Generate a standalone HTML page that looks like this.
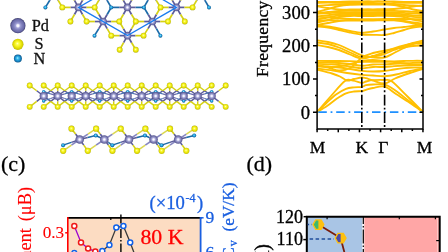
<!DOCTYPE html>
<html><head><meta charset="utf-8"><style>html,body{margin:0;padding:0;background:#fff;overflow:hidden}svg{display:block}</style></head>
<body>
<svg width="448" height="252" viewBox="0 0 448 252">
<defs>
<radialGradient id="gPd" cx="50%" cy="50%" r="50%" fx="50%" fy="50%">
<stop offset="0" stop-color="#ffffff"/><stop offset="0.14" stop-color="#f4f4ff"/><stop offset="0.32" stop-color="#a0a0d6"/><stop offset="0.55" stop-color="#8080bc"/><stop offset="0.8" stop-color="#6c6caa"/><stop offset="0.93" stop-color="#50508a"/><stop offset="1" stop-color="#3a3a62"/></radialGradient>
<radialGradient id="gPd2" cx="50%" cy="50%" r="50%" fx="50%" fy="50%">
<stop offset="0" stop-color="#ffffff"/><stop offset="0.2" stop-color="#ececfc"/><stop offset="0.45" stop-color="#a4a4d4"/><stop offset="0.75" stop-color="#7676ae"/><stop offset="1" stop-color="#52528a"/></radialGradient>
<radialGradient id="gS" cx="50%" cy="50%" r="55%" fx="45%" fy="42%">
<stop offset="0" stop-color="#ffffd0"/><stop offset="0.2" stop-color="#ffff50"/><stop offset="0.55" stop-color="#eeea10"/><stop offset="0.85" stop-color="#cfca00"/><stop offset="1" stop-color="#9a9400"/></radialGradient>
<radialGradient id="gN" cx="50%" cy="50%" r="55%" fx="45%" fy="42%">
<stop offset="0" stop-color="#b0f0ff"/><stop offset="0.25" stop-color="#40c0f0"/><stop offset="0.6" stop-color="#1a8ccc"/><stop offset="1" stop-color="#0a4a7a"/></radialGradient>
</defs>
<rect width="448" height="252" fill="#fff"/>
<circle cx="17.90" cy="25.70" r="7.60" fill="url(#gPd)" />
<circle cx="17.90" cy="44.30" r="5.60" fill="url(#gS)" />
<circle cx="17.90" cy="58.60" r="4.00" fill="url(#gN)" />
<g font-family="Liberation Serif, serif" font-size="16.3" fill="#111" stroke="#111" stroke-width="0.3">
<text x="31.8" y="30.8">Pd</text><text x="34.4" y="48.6">S</text><text x="33.6" y="64.3">N</text></g>
<line x1="54.05" y1="-6.72" x2="49.72" y2="0.34" stroke="#5b5b9a" stroke-width="1.7"/>
<line x1="49.72" y1="0.34" x2="45.40" y2="7.40" stroke="#1b6aa8" stroke-width="1.7"/>
<line x1="54.05" y1="-6.72" x2="58.17" y2="0.34" stroke="#5b5b9a" stroke-width="1.7"/>
<line x1="58.17" y1="0.34" x2="62.30" y2="7.40" stroke="#d6d214" stroke-width="1.7"/>
<line x1="78.50" y1="7.40" x2="70.40" y2="7.40" stroke="#5b5b9a" stroke-width="1.7"/>
<line x1="70.40" y1="7.40" x2="62.30" y2="7.40" stroke="#d6d214" stroke-width="1.7"/>
<line x1="78.50" y1="7.40" x2="86.60" y2="7.40" stroke="#5b5b9a" stroke-width="1.7"/>
<line x1="86.60" y1="7.40" x2="94.70" y2="7.40" stroke="#d6d214" stroke-width="1.7"/>
<line x1="78.50" y1="7.40" x2="74.45" y2="14.46" stroke="#5b5b9a" stroke-width="1.7"/>
<line x1="74.45" y1="14.46" x2="70.40" y2="21.52" stroke="#d6d214" stroke-width="1.7"/>
<line x1="78.50" y1="7.40" x2="82.55" y2="14.46" stroke="#5b5b9a" stroke-width="1.7"/>
<line x1="82.55" y1="14.46" x2="86.60" y2="21.52" stroke="#d6d214" stroke-width="1.7"/>
<line x1="78.50" y1="7.40" x2="74.45" y2="0.34" stroke="#5b5b9a" stroke-width="1.7"/>
<line x1="74.45" y1="0.34" x2="70.40" y2="-6.72" stroke="#d6d214" stroke-width="1.7"/>
<line x1="78.50" y1="7.40" x2="82.55" y2="0.34" stroke="#5b5b9a" stroke-width="1.7"/>
<line x1="82.55" y1="0.34" x2="86.60" y2="-6.72" stroke="#d6d214" stroke-width="1.7"/>
<line x1="102.95" y1="-6.72" x2="98.83" y2="0.34" stroke="#5b5b9a" stroke-width="1.7"/>
<line x1="98.83" y1="0.34" x2="94.70" y2="7.40" stroke="#d6d214" stroke-width="1.7"/>
<line x1="102.95" y1="-6.72" x2="107.08" y2="0.34" stroke="#5b5b9a" stroke-width="1.7"/>
<line x1="107.08" y1="0.34" x2="111.20" y2="7.40" stroke="#1b6aa8" stroke-width="1.7"/>
<line x1="127.40" y1="7.40" x2="119.30" y2="7.40" stroke="#5b5b9a" stroke-width="1.7"/>
<line x1="119.30" y1="7.40" x2="111.20" y2="7.40" stroke="#1b6aa8" stroke-width="1.7"/>
<line x1="127.40" y1="7.40" x2="135.65" y2="7.40" stroke="#5b5b9a" stroke-width="1.7"/>
<line x1="135.65" y1="7.40" x2="143.90" y2="7.40" stroke="#1b6aa8" stroke-width="1.7"/>
<line x1="127.40" y1="7.40" x2="123.35" y2="14.46" stroke="#5b5b9a" stroke-width="1.7"/>
<line x1="123.35" y1="14.46" x2="119.30" y2="21.52" stroke="#d6d214" stroke-width="1.7"/>
<line x1="127.40" y1="7.40" x2="131.60" y2="14.46" stroke="#5b5b9a" stroke-width="1.7"/>
<line x1="131.60" y1="14.46" x2="135.80" y2="21.52" stroke="#d6d214" stroke-width="1.7"/>
<line x1="127.40" y1="7.40" x2="123.35" y2="0.34" stroke="#5b5b9a" stroke-width="1.7"/>
<line x1="123.35" y1="0.34" x2="119.30" y2="-6.72" stroke="#d6d214" stroke-width="1.7"/>
<line x1="127.40" y1="7.40" x2="131.60" y2="0.34" stroke="#5b5b9a" stroke-width="1.7"/>
<line x1="131.60" y1="0.34" x2="135.80" y2="-6.72" stroke="#d6d214" stroke-width="1.7"/>
<line x1="151.90" y1="-6.72" x2="147.90" y2="0.34" stroke="#5b5b9a" stroke-width="1.7"/>
<line x1="147.90" y1="0.34" x2="143.90" y2="7.40" stroke="#1b6aa8" stroke-width="1.7"/>
<line x1="151.90" y1="-6.72" x2="156.20" y2="0.34" stroke="#5b5b9a" stroke-width="1.7"/>
<line x1="156.20" y1="0.34" x2="160.50" y2="7.40" stroke="#d6d214" stroke-width="1.7"/>
<line x1="176.40" y1="7.40" x2="168.45" y2="7.40" stroke="#5b5b9a" stroke-width="1.7"/>
<line x1="168.45" y1="7.40" x2="160.50" y2="7.40" stroke="#d6d214" stroke-width="1.7"/>
<line x1="176.40" y1="7.40" x2="184.50" y2="7.40" stroke="#5b5b9a" stroke-width="1.7"/>
<line x1="184.50" y1="7.40" x2="192.60" y2="7.40" stroke="#d6d214" stroke-width="1.7"/>
<line x1="176.40" y1="7.40" x2="172.20" y2="14.46" stroke="#5b5b9a" stroke-width="1.7"/>
<line x1="172.20" y1="14.46" x2="168.00" y2="21.52" stroke="#d6d214" stroke-width="1.7"/>
<line x1="176.40" y1="7.40" x2="180.60" y2="14.46" stroke="#5b5b9a" stroke-width="1.7"/>
<line x1="180.60" y1="14.46" x2="184.80" y2="21.52" stroke="#d6d214" stroke-width="1.7"/>
<line x1="176.40" y1="7.40" x2="172.35" y2="0.34" stroke="#5b5b9a" stroke-width="1.7"/>
<line x1="172.35" y1="0.34" x2="168.30" y2="-6.72" stroke="#d6d214" stroke-width="1.7"/>
<line x1="176.40" y1="7.40" x2="180.50" y2="0.34" stroke="#5b5b9a" stroke-width="1.7"/>
<line x1="180.50" y1="0.34" x2="184.60" y2="-6.72" stroke="#d6d214" stroke-width="1.7"/>
<line x1="200.80" y1="-6.72" x2="196.70" y2="0.34" stroke="#5b5b9a" stroke-width="1.7"/>
<line x1="196.70" y1="0.34" x2="192.60" y2="7.40" stroke="#d6d214" stroke-width="1.7"/>
<line x1="200.80" y1="-6.72" x2="204.90" y2="0.34" stroke="#5b5b9a" stroke-width="1.7"/>
<line x1="204.90" y1="0.34" x2="209.00" y2="7.40" stroke="#1b6aa8" stroke-width="1.7"/>
<line x1="103.10" y1="21.52" x2="98.90" y2="14.46" stroke="#5b5b9a" stroke-width="1.7"/>
<line x1="98.90" y1="14.46" x2="94.70" y2="7.40" stroke="#d6d214" stroke-width="1.7"/>
<line x1="103.10" y1="21.52" x2="107.15" y2="14.46" stroke="#5b5b9a" stroke-width="1.7"/>
<line x1="107.15" y1="14.46" x2="111.20" y2="7.40" stroke="#1b6aa8" stroke-width="1.7"/>
<line x1="103.10" y1="21.52" x2="94.85" y2="21.52" stroke="#5b5b9a" stroke-width="1.7"/>
<line x1="94.85" y1="21.52" x2="86.60" y2="21.52" stroke="#d6d214" stroke-width="1.7"/>
<line x1="103.10" y1="21.52" x2="111.20" y2="21.52" stroke="#5b5b9a" stroke-width="1.7"/>
<line x1="111.20" y1="21.52" x2="119.30" y2="21.52" stroke="#d6d214" stroke-width="1.7"/>
<line x1="103.10" y1="21.52" x2="98.80" y2="28.58" stroke="#5b5b9a" stroke-width="1.7"/>
<line x1="98.80" y1="28.58" x2="94.50" y2="35.64" stroke="#1b6aa8" stroke-width="1.7"/>
<line x1="103.10" y1="21.52" x2="107.17" y2="28.58" stroke="#5b5b9a" stroke-width="1.7"/>
<line x1="107.17" y1="28.58" x2="111.25" y2="35.64" stroke="#d6d214" stroke-width="1.7"/>
<line x1="152.40" y1="21.52" x2="148.15" y2="14.46" stroke="#5b5b9a" stroke-width="1.7"/>
<line x1="148.15" y1="14.46" x2="143.90" y2="7.40" stroke="#1b6aa8" stroke-width="1.7"/>
<line x1="152.40" y1="21.52" x2="156.45" y2="14.46" stroke="#5b5b9a" stroke-width="1.7"/>
<line x1="156.45" y1="14.46" x2="160.50" y2="7.40" stroke="#d6d214" stroke-width="1.7"/>
<line x1="152.40" y1="21.52" x2="144.10" y2="21.52" stroke="#5b5b9a" stroke-width="1.7"/>
<line x1="144.10" y1="21.52" x2="135.80" y2="21.52" stroke="#d6d214" stroke-width="1.7"/>
<line x1="152.40" y1="21.52" x2="160.20" y2="21.52" stroke="#5b5b9a" stroke-width="1.7"/>
<line x1="160.20" y1="21.52" x2="168.00" y2="21.52" stroke="#d6d214" stroke-width="1.7"/>
<line x1="152.40" y1="21.52" x2="148.00" y2="28.58" stroke="#5b5b9a" stroke-width="1.7"/>
<line x1="148.00" y1="28.58" x2="143.60" y2="35.64" stroke="#d6d214" stroke-width="1.7"/>
<line x1="152.40" y1="21.52" x2="156.40" y2="28.58" stroke="#5b5b9a" stroke-width="1.7"/>
<line x1="156.40" y1="28.58" x2="160.40" y2="35.64" stroke="#1b6aa8" stroke-width="1.7"/>
<line x1="127.50" y1="35.64" x2="123.40" y2="28.58" stroke="#5b5b9a" stroke-width="1.7"/>
<line x1="123.40" y1="28.58" x2="119.30" y2="21.52" stroke="#d6d214" stroke-width="1.7"/>
<line x1="127.50" y1="35.64" x2="131.65" y2="28.58" stroke="#5b5b9a" stroke-width="1.7"/>
<line x1="131.65" y1="28.58" x2="135.80" y2="21.52" stroke="#d6d214" stroke-width="1.7"/>
<line x1="127.50" y1="35.64" x2="119.38" y2="35.64" stroke="#5b5b9a" stroke-width="1.7"/>
<line x1="119.38" y1="35.64" x2="111.25" y2="35.64" stroke="#d6d214" stroke-width="1.7"/>
<line x1="127.50" y1="35.64" x2="135.55" y2="35.64" stroke="#5b5b9a" stroke-width="1.7"/>
<line x1="135.55" y1="35.64" x2="143.60" y2="35.64" stroke="#d6d214" stroke-width="1.7"/>
<line x1="127.50" y1="35.64" x2="123.60" y2="42.70" stroke="#5b5b9a" stroke-width="1.7"/>
<line x1="123.60" y1="42.70" x2="119.70" y2="49.76" stroke="#d6d214" stroke-width="1.7"/>
<line x1="127.50" y1="35.64" x2="131.65" y2="42.70" stroke="#5b5b9a" stroke-width="1.7"/>
<line x1="131.65" y1="42.70" x2="135.80" y2="49.76" stroke="#d6d214" stroke-width="1.7"/>
<circle cx="45.40" cy="7.40" r="2.00" fill="url(#gN)" />
<circle cx="62.30" cy="7.40" r="2.90" fill="url(#gS)" />
<circle cx="78.50" cy="7.40" r="3.80" fill="url(#gPd2)" />
<circle cx="94.70" cy="7.40" r="2.90" fill="url(#gS)" />
<circle cx="111.20" cy="7.40" r="2.00" fill="url(#gN)" />
<circle cx="127.40" cy="7.40" r="3.80" fill="url(#gPd2)" />
<circle cx="143.90" cy="7.40" r="2.00" fill="url(#gN)" />
<circle cx="160.50" cy="7.40" r="2.90" fill="url(#gS)" />
<circle cx="176.40" cy="7.40" r="3.80" fill="url(#gPd2)" />
<circle cx="192.60" cy="7.40" r="2.90" fill="url(#gS)" />
<circle cx="209.00" cy="7.40" r="2.00" fill="url(#gN)" />
<circle cx="70.40" cy="21.52" r="2.90" fill="url(#gS)" />
<circle cx="86.60" cy="21.52" r="2.90" fill="url(#gS)" />
<circle cx="103.10" cy="21.52" r="3.80" fill="url(#gPd2)" />
<circle cx="119.30" cy="21.52" r="2.90" fill="url(#gS)" />
<circle cx="135.80" cy="21.52" r="2.90" fill="url(#gS)" />
<circle cx="152.40" cy="21.52" r="3.80" fill="url(#gPd2)" />
<circle cx="168.00" cy="21.52" r="2.90" fill="url(#gS)" />
<circle cx="184.80" cy="21.52" r="2.90" fill="url(#gS)" />
<circle cx="94.50" cy="35.64" r="2.00" fill="url(#gN)" />
<circle cx="111.25" cy="35.64" r="2.90" fill="url(#gS)" />
<circle cx="127.50" cy="35.64" r="3.80" fill="url(#gPd2)" />
<circle cx="143.60" cy="35.64" r="2.90" fill="url(#gS)" />
<circle cx="160.40" cy="35.64" r="2.00" fill="url(#gN)" />
<circle cx="119.70" cy="49.76" r="2.90" fill="url(#gS)" />
<circle cx="135.80" cy="49.76" r="2.90" fill="url(#gS)" />
<g stroke="#1a7cf0" stroke-width="1.3" fill="none">
<polyline points="127.4,-20.8 78.5,7.4 127.5,35.6 176.4,7.4 127.4,-20.8"/>
</g>
<line x1="43.70" y1="96.00" x2="36.70" y2="90.75" stroke="#5b5b9a" stroke-width="1.5"/>
<line x1="36.70" y1="90.75" x2="29.70" y2="85.50" stroke="#d6d214" stroke-width="1.5"/>
<line x1="43.70" y1="96.00" x2="36.70" y2="101.40" stroke="#5b5b9a" stroke-width="1.5"/>
<line x1="36.70" y1="101.40" x2="29.70" y2="106.80" stroke="#d6d214" stroke-width="1.5"/>
<line x1="57.70" y1="96.00" x2="50.70" y2="90.75" stroke="#5b5b9a" stroke-width="1.5"/>
<line x1="50.70" y1="90.75" x2="43.70" y2="85.50" stroke="#d6d214" stroke-width="1.5"/>
<line x1="57.70" y1="96.00" x2="50.70" y2="101.40" stroke="#5b5b9a" stroke-width="1.5"/>
<line x1="50.70" y1="101.40" x2="43.70" y2="106.80" stroke="#d6d214" stroke-width="1.5"/>
<line x1="43.70" y1="96.00" x2="50.70" y2="90.75" stroke="#5b5b9a" stroke-width="1.5"/>
<line x1="50.70" y1="90.75" x2="57.70" y2="85.50" stroke="#d6d214" stroke-width="1.5"/>
<line x1="43.70" y1="96.00" x2="50.70" y2="101.40" stroke="#5b5b9a" stroke-width="1.5"/>
<line x1="50.70" y1="101.40" x2="57.70" y2="106.80" stroke="#d6d214" stroke-width="1.5"/>
<line x1="71.70" y1="96.00" x2="64.70" y2="90.75" stroke="#5b5b9a" stroke-width="1.5"/>
<line x1="64.70" y1="90.75" x2="57.70" y2="85.50" stroke="#d6d214" stroke-width="1.5"/>
<line x1="71.70" y1="96.00" x2="64.70" y2="101.40" stroke="#5b5b9a" stroke-width="1.5"/>
<line x1="64.70" y1="101.40" x2="57.70" y2="106.80" stroke="#d6d214" stroke-width="1.5"/>
<line x1="57.70" y1="96.00" x2="64.70" y2="90.75" stroke="#5b5b9a" stroke-width="1.5"/>
<line x1="64.70" y1="90.75" x2="71.70" y2="85.50" stroke="#d6d214" stroke-width="1.5"/>
<line x1="57.70" y1="96.00" x2="64.70" y2="101.40" stroke="#5b5b9a" stroke-width="1.5"/>
<line x1="64.70" y1="101.40" x2="71.70" y2="106.80" stroke="#d6d214" stroke-width="1.5"/>
<line x1="85.70" y1="96.00" x2="78.70" y2="90.75" stroke="#5b5b9a" stroke-width="1.5"/>
<line x1="78.70" y1="90.75" x2="71.70" y2="85.50" stroke="#d6d214" stroke-width="1.5"/>
<line x1="85.70" y1="96.00" x2="78.70" y2="101.40" stroke="#5b5b9a" stroke-width="1.5"/>
<line x1="78.70" y1="101.40" x2="71.70" y2="106.80" stroke="#d6d214" stroke-width="1.5"/>
<line x1="71.70" y1="96.00" x2="78.70" y2="90.75" stroke="#5b5b9a" stroke-width="1.5"/>
<line x1="78.70" y1="90.75" x2="85.70" y2="85.50" stroke="#d6d214" stroke-width="1.5"/>
<line x1="71.70" y1="96.00" x2="78.70" y2="101.40" stroke="#5b5b9a" stroke-width="1.5"/>
<line x1="78.70" y1="101.40" x2="85.70" y2="106.80" stroke="#d6d214" stroke-width="1.5"/>
<line x1="99.70" y1="96.00" x2="92.70" y2="90.75" stroke="#5b5b9a" stroke-width="1.5"/>
<line x1="92.70" y1="90.75" x2="85.70" y2="85.50" stroke="#d6d214" stroke-width="1.5"/>
<line x1="99.70" y1="96.00" x2="92.70" y2="101.40" stroke="#5b5b9a" stroke-width="1.5"/>
<line x1="92.70" y1="101.40" x2="85.70" y2="106.80" stroke="#d6d214" stroke-width="1.5"/>
<line x1="85.70" y1="96.00" x2="92.70" y2="90.75" stroke="#5b5b9a" stroke-width="1.5"/>
<line x1="92.70" y1="90.75" x2="99.70" y2="85.50" stroke="#d6d214" stroke-width="1.5"/>
<line x1="85.70" y1="96.00" x2="92.70" y2="101.40" stroke="#5b5b9a" stroke-width="1.5"/>
<line x1="92.70" y1="101.40" x2="99.70" y2="106.80" stroke="#d6d214" stroke-width="1.5"/>
<line x1="113.70" y1="96.00" x2="106.70" y2="90.75" stroke="#5b5b9a" stroke-width="1.5"/>
<line x1="106.70" y1="90.75" x2="99.70" y2="85.50" stroke="#d6d214" stroke-width="1.5"/>
<line x1="113.70" y1="96.00" x2="106.70" y2="101.40" stroke="#5b5b9a" stroke-width="1.5"/>
<line x1="106.70" y1="101.40" x2="99.70" y2="106.80" stroke="#d6d214" stroke-width="1.5"/>
<line x1="99.70" y1="96.00" x2="106.70" y2="90.75" stroke="#5b5b9a" stroke-width="1.5"/>
<line x1="106.70" y1="90.75" x2="113.70" y2="85.50" stroke="#d6d214" stroke-width="1.5"/>
<line x1="99.70" y1="96.00" x2="106.70" y2="101.40" stroke="#5b5b9a" stroke-width="1.5"/>
<line x1="106.70" y1="101.40" x2="113.70" y2="106.80" stroke="#d6d214" stroke-width="1.5"/>
<line x1="127.70" y1="96.00" x2="120.70" y2="90.75" stroke="#5b5b9a" stroke-width="1.5"/>
<line x1="120.70" y1="90.75" x2="113.70" y2="85.50" stroke="#d6d214" stroke-width="1.5"/>
<line x1="127.70" y1="96.00" x2="120.70" y2="101.40" stroke="#5b5b9a" stroke-width="1.5"/>
<line x1="120.70" y1="101.40" x2="113.70" y2="106.80" stroke="#d6d214" stroke-width="1.5"/>
<line x1="113.70" y1="96.00" x2="120.70" y2="90.75" stroke="#5b5b9a" stroke-width="1.5"/>
<line x1="120.70" y1="90.75" x2="127.70" y2="85.50" stroke="#d6d214" stroke-width="1.5"/>
<line x1="113.70" y1="96.00" x2="120.70" y2="101.40" stroke="#5b5b9a" stroke-width="1.5"/>
<line x1="120.70" y1="101.40" x2="127.70" y2="106.80" stroke="#d6d214" stroke-width="1.5"/>
<line x1="141.70" y1="96.00" x2="134.70" y2="90.75" stroke="#5b5b9a" stroke-width="1.5"/>
<line x1="134.70" y1="90.75" x2="127.70" y2="85.50" stroke="#d6d214" stroke-width="1.5"/>
<line x1="141.70" y1="96.00" x2="134.70" y2="101.40" stroke="#5b5b9a" stroke-width="1.5"/>
<line x1="134.70" y1="101.40" x2="127.70" y2="106.80" stroke="#d6d214" stroke-width="1.5"/>
<line x1="127.70" y1="96.00" x2="134.70" y2="90.75" stroke="#5b5b9a" stroke-width="1.5"/>
<line x1="134.70" y1="90.75" x2="141.70" y2="85.50" stroke="#d6d214" stroke-width="1.5"/>
<line x1="127.70" y1="96.00" x2="134.70" y2="101.40" stroke="#5b5b9a" stroke-width="1.5"/>
<line x1="134.70" y1="101.40" x2="141.70" y2="106.80" stroke="#d6d214" stroke-width="1.5"/>
<line x1="155.70" y1="96.00" x2="148.70" y2="90.75" stroke="#5b5b9a" stroke-width="1.5"/>
<line x1="148.70" y1="90.75" x2="141.70" y2="85.50" stroke="#d6d214" stroke-width="1.5"/>
<line x1="155.70" y1="96.00" x2="148.70" y2="101.40" stroke="#5b5b9a" stroke-width="1.5"/>
<line x1="148.70" y1="101.40" x2="141.70" y2="106.80" stroke="#d6d214" stroke-width="1.5"/>
<line x1="141.70" y1="96.00" x2="148.70" y2="90.75" stroke="#5b5b9a" stroke-width="1.5"/>
<line x1="148.70" y1="90.75" x2="155.70" y2="85.50" stroke="#d6d214" stroke-width="1.5"/>
<line x1="141.70" y1="96.00" x2="148.70" y2="101.40" stroke="#5b5b9a" stroke-width="1.5"/>
<line x1="148.70" y1="101.40" x2="155.70" y2="106.80" stroke="#d6d214" stroke-width="1.5"/>
<line x1="169.70" y1="96.00" x2="162.70" y2="90.75" stroke="#5b5b9a" stroke-width="1.5"/>
<line x1="162.70" y1="90.75" x2="155.70" y2="85.50" stroke="#d6d214" stroke-width="1.5"/>
<line x1="169.70" y1="96.00" x2="162.70" y2="101.40" stroke="#5b5b9a" stroke-width="1.5"/>
<line x1="162.70" y1="101.40" x2="155.70" y2="106.80" stroke="#d6d214" stroke-width="1.5"/>
<line x1="155.70" y1="96.00" x2="162.70" y2="90.75" stroke="#5b5b9a" stroke-width="1.5"/>
<line x1="162.70" y1="90.75" x2="169.70" y2="85.50" stroke="#d6d214" stroke-width="1.5"/>
<line x1="155.70" y1="96.00" x2="162.70" y2="101.40" stroke="#5b5b9a" stroke-width="1.5"/>
<line x1="162.70" y1="101.40" x2="169.70" y2="106.80" stroke="#d6d214" stroke-width="1.5"/>
<line x1="183.70" y1="96.00" x2="176.70" y2="90.75" stroke="#5b5b9a" stroke-width="1.5"/>
<line x1="176.70" y1="90.75" x2="169.70" y2="85.50" stroke="#d6d214" stroke-width="1.5"/>
<line x1="183.70" y1="96.00" x2="176.70" y2="101.40" stroke="#5b5b9a" stroke-width="1.5"/>
<line x1="176.70" y1="101.40" x2="169.70" y2="106.80" stroke="#d6d214" stroke-width="1.5"/>
<line x1="169.70" y1="96.00" x2="176.70" y2="90.75" stroke="#5b5b9a" stroke-width="1.5"/>
<line x1="176.70" y1="90.75" x2="183.70" y2="85.50" stroke="#d6d214" stroke-width="1.5"/>
<line x1="169.70" y1="96.00" x2="176.70" y2="101.40" stroke="#5b5b9a" stroke-width="1.5"/>
<line x1="176.70" y1="101.40" x2="183.70" y2="106.80" stroke="#d6d214" stroke-width="1.5"/>
<line x1="197.70" y1="96.00" x2="190.70" y2="90.75" stroke="#5b5b9a" stroke-width="1.5"/>
<line x1="190.70" y1="90.75" x2="183.70" y2="85.50" stroke="#d6d214" stroke-width="1.5"/>
<line x1="197.70" y1="96.00" x2="190.70" y2="101.40" stroke="#5b5b9a" stroke-width="1.5"/>
<line x1="190.70" y1="101.40" x2="183.70" y2="106.80" stroke="#d6d214" stroke-width="1.5"/>
<line x1="183.70" y1="96.00" x2="190.70" y2="90.75" stroke="#5b5b9a" stroke-width="1.5"/>
<line x1="190.70" y1="90.75" x2="197.70" y2="85.50" stroke="#d6d214" stroke-width="1.5"/>
<line x1="183.70" y1="96.00" x2="190.70" y2="101.40" stroke="#5b5b9a" stroke-width="1.5"/>
<line x1="190.70" y1="101.40" x2="197.70" y2="106.80" stroke="#d6d214" stroke-width="1.5"/>
<line x1="211.70" y1="96.00" x2="204.70" y2="90.75" stroke="#5b5b9a" stroke-width="1.5"/>
<line x1="204.70" y1="90.75" x2="197.70" y2="85.50" stroke="#d6d214" stroke-width="1.5"/>
<line x1="211.70" y1="96.00" x2="204.70" y2="101.40" stroke="#5b5b9a" stroke-width="1.5"/>
<line x1="204.70" y1="101.40" x2="197.70" y2="106.80" stroke="#d6d214" stroke-width="1.5"/>
<line x1="197.70" y1="96.00" x2="204.70" y2="90.75" stroke="#5b5b9a" stroke-width="1.5"/>
<line x1="204.70" y1="90.75" x2="211.70" y2="85.50" stroke="#d6d214" stroke-width="1.5"/>
<line x1="197.70" y1="96.00" x2="204.70" y2="101.40" stroke="#5b5b9a" stroke-width="1.5"/>
<line x1="204.70" y1="101.40" x2="211.70" y2="106.80" stroke="#d6d214" stroke-width="1.5"/>
<line x1="211.70" y1="96.00" x2="218.70" y2="90.75" stroke="#5b5b9a" stroke-width="1.5"/>
<line x1="218.70" y1="90.75" x2="225.70" y2="85.50" stroke="#d6d214" stroke-width="1.5"/>
<line x1="211.70" y1="96.00" x2="218.70" y2="101.40" stroke="#5b5b9a" stroke-width="1.5"/>
<line x1="218.70" y1="101.40" x2="225.70" y2="106.80" stroke="#d6d214" stroke-width="1.5"/>
<line x1="57.70" y1="96.00" x2="57.70" y2="90.75" stroke="#5b5b9a" stroke-width="1.5"/>
<line x1="57.70" y1="90.75" x2="57.70" y2="85.50" stroke="#d6d214" stroke-width="1.5"/>
<line x1="57.70" y1="96.00" x2="57.70" y2="101.40" stroke="#5b5b9a" stroke-width="1.5"/>
<line x1="57.70" y1="101.40" x2="57.70" y2="106.80" stroke="#d6d214" stroke-width="1.5"/>
<line x1="85.70" y1="96.00" x2="85.70" y2="90.75" stroke="#5b5b9a" stroke-width="1.5"/>
<line x1="85.70" y1="90.75" x2="85.70" y2="85.50" stroke="#d6d214" stroke-width="1.5"/>
<line x1="85.70" y1="96.00" x2="85.70" y2="101.40" stroke="#5b5b9a" stroke-width="1.5"/>
<line x1="85.70" y1="101.40" x2="85.70" y2="106.80" stroke="#d6d214" stroke-width="1.5"/>
<line x1="113.70" y1="96.00" x2="113.70" y2="90.75" stroke="#5b5b9a" stroke-width="1.5"/>
<line x1="113.70" y1="90.75" x2="113.70" y2="85.50" stroke="#d6d214" stroke-width="1.5"/>
<line x1="113.70" y1="96.00" x2="113.70" y2="101.40" stroke="#5b5b9a" stroke-width="1.5"/>
<line x1="113.70" y1="101.40" x2="113.70" y2="106.80" stroke="#d6d214" stroke-width="1.5"/>
<line x1="141.70" y1="96.00" x2="141.70" y2="90.75" stroke="#5b5b9a" stroke-width="1.5"/>
<line x1="141.70" y1="90.75" x2="141.70" y2="85.50" stroke="#d6d214" stroke-width="1.5"/>
<line x1="141.70" y1="96.00" x2="141.70" y2="101.40" stroke="#5b5b9a" stroke-width="1.5"/>
<line x1="141.70" y1="101.40" x2="141.70" y2="106.80" stroke="#d6d214" stroke-width="1.5"/>
<line x1="169.70" y1="96.00" x2="169.70" y2="90.75" stroke="#5b5b9a" stroke-width="1.5"/>
<line x1="169.70" y1="90.75" x2="169.70" y2="85.50" stroke="#d6d214" stroke-width="1.5"/>
<line x1="169.70" y1="96.00" x2="169.70" y2="101.40" stroke="#5b5b9a" stroke-width="1.5"/>
<line x1="169.70" y1="101.40" x2="169.70" y2="106.80" stroke="#d6d214" stroke-width="1.5"/>
<line x1="197.70" y1="96.00" x2="197.70" y2="90.75" stroke="#5b5b9a" stroke-width="1.5"/>
<line x1="197.70" y1="90.75" x2="197.70" y2="85.50" stroke="#d6d214" stroke-width="1.5"/>
<line x1="197.70" y1="96.00" x2="197.70" y2="101.40" stroke="#5b5b9a" stroke-width="1.5"/>
<line x1="197.70" y1="101.40" x2="197.70" y2="106.80" stroke="#d6d214" stroke-width="1.5"/>
<line x1="57.70" y1="96.00" x2="50.70" y2="93.80" stroke="#6c6cac" stroke-width="1.3"/>
<line x1="50.70" y1="93.80" x2="43.70" y2="91.60" stroke="#4a74b4" stroke-width="1.3"/>
<line x1="57.70" y1="96.00" x2="50.70" y2="98.50" stroke="#6c6cac" stroke-width="1.3"/>
<line x1="50.70" y1="98.50" x2="43.70" y2="101.00" stroke="#4a74b4" stroke-width="1.3"/>
<line x1="57.70" y1="96.00" x2="64.70" y2="93.80" stroke="#6c6cac" stroke-width="1.3"/>
<line x1="64.70" y1="93.80" x2="71.70" y2="91.60" stroke="#4a74b4" stroke-width="1.3"/>
<line x1="57.70" y1="96.00" x2="64.70" y2="98.50" stroke="#6c6cac" stroke-width="1.3"/>
<line x1="64.70" y1="98.50" x2="71.70" y2="101.00" stroke="#4a74b4" stroke-width="1.3"/>
<line x1="85.70" y1="96.00" x2="78.70" y2="93.80" stroke="#6c6cac" stroke-width="1.3"/>
<line x1="78.70" y1="93.80" x2="71.70" y2="91.60" stroke="#4a74b4" stroke-width="1.3"/>
<line x1="85.70" y1="96.00" x2="78.70" y2="98.50" stroke="#6c6cac" stroke-width="1.3"/>
<line x1="78.70" y1="98.50" x2="71.70" y2="101.00" stroke="#4a74b4" stroke-width="1.3"/>
<line x1="85.70" y1="96.00" x2="92.70" y2="93.80" stroke="#6c6cac" stroke-width="1.3"/>
<line x1="92.70" y1="93.80" x2="99.70" y2="91.60" stroke="#4a74b4" stroke-width="1.3"/>
<line x1="85.70" y1="96.00" x2="92.70" y2="98.50" stroke="#6c6cac" stroke-width="1.3"/>
<line x1="92.70" y1="98.50" x2="99.70" y2="101.00" stroke="#4a74b4" stroke-width="1.3"/>
<line x1="113.70" y1="96.00" x2="106.70" y2="93.80" stroke="#6c6cac" stroke-width="1.3"/>
<line x1="106.70" y1="93.80" x2="99.70" y2="91.60" stroke="#4a74b4" stroke-width="1.3"/>
<line x1="113.70" y1="96.00" x2="106.70" y2="98.50" stroke="#6c6cac" stroke-width="1.3"/>
<line x1="106.70" y1="98.50" x2="99.70" y2="101.00" stroke="#4a74b4" stroke-width="1.3"/>
<line x1="113.70" y1="96.00" x2="120.70" y2="93.80" stroke="#6c6cac" stroke-width="1.3"/>
<line x1="120.70" y1="93.80" x2="127.70" y2="91.60" stroke="#4a74b4" stroke-width="1.3"/>
<line x1="113.70" y1="96.00" x2="120.70" y2="98.50" stroke="#6c6cac" stroke-width="1.3"/>
<line x1="120.70" y1="98.50" x2="127.70" y2="101.00" stroke="#4a74b4" stroke-width="1.3"/>
<line x1="141.70" y1="96.00" x2="134.70" y2="93.80" stroke="#6c6cac" stroke-width="1.3"/>
<line x1="134.70" y1="93.80" x2="127.70" y2="91.60" stroke="#4a74b4" stroke-width="1.3"/>
<line x1="141.70" y1="96.00" x2="134.70" y2="98.50" stroke="#6c6cac" stroke-width="1.3"/>
<line x1="134.70" y1="98.50" x2="127.70" y2="101.00" stroke="#4a74b4" stroke-width="1.3"/>
<line x1="141.70" y1="96.00" x2="148.70" y2="93.80" stroke="#6c6cac" stroke-width="1.3"/>
<line x1="148.70" y1="93.80" x2="155.70" y2="91.60" stroke="#4a74b4" stroke-width="1.3"/>
<line x1="141.70" y1="96.00" x2="148.70" y2="98.50" stroke="#6c6cac" stroke-width="1.3"/>
<line x1="148.70" y1="98.50" x2="155.70" y2="101.00" stroke="#4a74b4" stroke-width="1.3"/>
<line x1="169.70" y1="96.00" x2="162.70" y2="93.80" stroke="#6c6cac" stroke-width="1.3"/>
<line x1="162.70" y1="93.80" x2="155.70" y2="91.60" stroke="#4a74b4" stroke-width="1.3"/>
<line x1="169.70" y1="96.00" x2="162.70" y2="98.50" stroke="#6c6cac" stroke-width="1.3"/>
<line x1="162.70" y1="98.50" x2="155.70" y2="101.00" stroke="#4a74b4" stroke-width="1.3"/>
<line x1="169.70" y1="96.00" x2="176.70" y2="93.80" stroke="#6c6cac" stroke-width="1.3"/>
<line x1="176.70" y1="93.80" x2="183.70" y2="91.60" stroke="#4a74b4" stroke-width="1.3"/>
<line x1="169.70" y1="96.00" x2="176.70" y2="98.50" stroke="#6c6cac" stroke-width="1.3"/>
<line x1="176.70" y1="98.50" x2="183.70" y2="101.00" stroke="#4a74b4" stroke-width="1.3"/>
<line x1="197.70" y1="96.00" x2="190.70" y2="93.80" stroke="#6c6cac" stroke-width="1.3"/>
<line x1="190.70" y1="93.80" x2="183.70" y2="91.60" stroke="#4a74b4" stroke-width="1.3"/>
<line x1="197.70" y1="96.00" x2="190.70" y2="98.50" stroke="#6c6cac" stroke-width="1.3"/>
<line x1="190.70" y1="98.50" x2="183.70" y2="101.00" stroke="#4a74b4" stroke-width="1.3"/>
<line x1="197.70" y1="96.00" x2="204.70" y2="93.80" stroke="#6c6cac" stroke-width="1.3"/>
<line x1="204.70" y1="93.80" x2="211.70" y2="91.60" stroke="#4a74b4" stroke-width="1.3"/>
<line x1="197.70" y1="96.00" x2="204.70" y2="98.50" stroke="#6c6cac" stroke-width="1.3"/>
<line x1="204.70" y1="98.50" x2="211.70" y2="101.00" stroke="#4a74b4" stroke-width="1.3"/>
<circle cx="43.70" cy="91.60" r="1.70" fill="url(#gN)" />
<circle cx="43.70" cy="101.00" r="1.70" fill="url(#gN)" />
<circle cx="71.70" cy="91.60" r="1.70" fill="url(#gN)" />
<circle cx="71.70" cy="101.00" r="1.70" fill="url(#gN)" />
<circle cx="99.70" cy="91.60" r="1.70" fill="url(#gN)" />
<circle cx="99.70" cy="101.00" r="1.70" fill="url(#gN)" />
<circle cx="127.70" cy="91.60" r="1.70" fill="url(#gN)" />
<circle cx="127.70" cy="101.00" r="1.70" fill="url(#gN)" />
<circle cx="155.70" cy="91.60" r="1.70" fill="url(#gN)" />
<circle cx="155.70" cy="101.00" r="1.70" fill="url(#gN)" />
<circle cx="183.70" cy="91.60" r="1.70" fill="url(#gN)" />
<circle cx="183.70" cy="101.00" r="1.70" fill="url(#gN)" />
<circle cx="211.70" cy="91.60" r="1.70" fill="url(#gN)" />
<circle cx="211.70" cy="101.00" r="1.70" fill="url(#gN)" />
<circle cx="43.70" cy="96.00" r="4.10" fill="url(#gPd2)" />
<circle cx="57.70" cy="96.00" r="4.10" fill="url(#gPd2)" />
<circle cx="71.70" cy="96.00" r="4.10" fill="url(#gPd2)" />
<circle cx="85.70" cy="96.00" r="4.10" fill="url(#gPd2)" />
<circle cx="99.70" cy="96.00" r="4.10" fill="url(#gPd2)" />
<circle cx="113.70" cy="96.00" r="4.10" fill="url(#gPd2)" />
<circle cx="127.70" cy="96.00" r="4.10" fill="url(#gPd2)" />
<circle cx="141.70" cy="96.00" r="4.10" fill="url(#gPd2)" />
<circle cx="155.70" cy="96.00" r="4.10" fill="url(#gPd2)" />
<circle cx="169.70" cy="96.00" r="4.10" fill="url(#gPd2)" />
<circle cx="183.70" cy="96.00" r="4.10" fill="url(#gPd2)" />
<circle cx="197.70" cy="96.00" r="4.10" fill="url(#gPd2)" />
<circle cx="211.70" cy="96.00" r="4.10" fill="url(#gPd2)" />
<circle cx="29.70" cy="85.50" r="2.90" fill="url(#gS)" />
<circle cx="29.70" cy="106.80" r="2.90" fill="url(#gS)" />
<circle cx="43.70" cy="85.50" r="2.90" fill="url(#gS)" />
<circle cx="43.70" cy="106.80" r="2.90" fill="url(#gS)" />
<circle cx="57.70" cy="85.50" r="2.90" fill="url(#gS)" />
<circle cx="57.70" cy="106.80" r="2.90" fill="url(#gS)" />
<circle cx="71.70" cy="85.50" r="2.90" fill="url(#gS)" />
<circle cx="71.70" cy="106.80" r="2.90" fill="url(#gS)" />
<circle cx="85.70" cy="85.50" r="2.90" fill="url(#gS)" />
<circle cx="85.70" cy="106.80" r="2.90" fill="url(#gS)" />
<circle cx="99.70" cy="85.50" r="2.90" fill="url(#gS)" />
<circle cx="99.70" cy="106.80" r="2.90" fill="url(#gS)" />
<circle cx="113.70" cy="85.50" r="2.90" fill="url(#gS)" />
<circle cx="113.70" cy="106.80" r="2.90" fill="url(#gS)" />
<circle cx="127.70" cy="85.50" r="2.90" fill="url(#gS)" />
<circle cx="127.70" cy="106.80" r="2.90" fill="url(#gS)" />
<circle cx="141.70" cy="85.50" r="2.90" fill="url(#gS)" />
<circle cx="141.70" cy="106.80" r="2.90" fill="url(#gS)" />
<circle cx="155.70" cy="85.50" r="2.90" fill="url(#gS)" />
<circle cx="155.70" cy="106.80" r="2.90" fill="url(#gS)" />
<circle cx="169.70" cy="85.50" r="2.90" fill="url(#gS)" />
<circle cx="169.70" cy="106.80" r="2.90" fill="url(#gS)" />
<circle cx="183.70" cy="85.50" r="2.90" fill="url(#gS)" />
<circle cx="183.70" cy="106.80" r="2.90" fill="url(#gS)" />
<circle cx="197.70" cy="85.50" r="2.90" fill="url(#gS)" />
<circle cx="197.70" cy="106.80" r="2.90" fill="url(#gS)" />
<circle cx="211.70" cy="85.50" r="2.90" fill="url(#gS)" />
<circle cx="211.70" cy="106.80" r="2.90" fill="url(#gS)" />
<circle cx="225.70" cy="85.50" r="2.90" fill="url(#gS)" />
<circle cx="225.70" cy="106.80" r="2.90" fill="url(#gS)" />
<line x1="79.70" y1="139.50" x2="75.60" y2="134.10" stroke="#5b5b9a" stroke-width="1.6"/>
<line x1="75.60" y1="134.10" x2="71.50" y2="128.70" stroke="#d6d214" stroke-width="1.6"/>
<line x1="79.70" y1="139.50" x2="87.91" y2="134.10" stroke="#8686c0" stroke-width="1.6"/>
<line x1="87.91" y1="134.10" x2="96.12" y2="128.70" stroke="#dcd850" stroke-width="1.6"/>
<line x1="79.70" y1="139.50" x2="83.75" y2="145.15" stroke="#5b5b9a" stroke-width="1.6"/>
<line x1="83.75" y1="145.15" x2="87.80" y2="150.80" stroke="#d6d214" stroke-width="1.6"/>
<line x1="79.70" y1="139.50" x2="71.44" y2="145.15" stroke="#8686c0" stroke-width="1.6"/>
<line x1="71.44" y1="145.15" x2="63.18" y2="150.80" stroke="#dcd850" stroke-width="1.6"/>
<line x1="104.32" y1="139.50" x2="100.22" y2="134.10" stroke="#5b5b9a" stroke-width="1.6"/>
<line x1="100.22" y1="134.10" x2="96.12" y2="128.70" stroke="#d6d214" stroke-width="1.6"/>
<line x1="104.32" y1="139.50" x2="112.53" y2="134.10" stroke="#8686c0" stroke-width="1.6"/>
<line x1="112.53" y1="134.10" x2="120.74" y2="128.70" stroke="#dcd850" stroke-width="1.6"/>
<line x1="104.32" y1="139.50" x2="108.37" y2="145.15" stroke="#5b5b9a" stroke-width="1.6"/>
<line x1="108.37" y1="145.15" x2="112.42" y2="150.80" stroke="#d6d214" stroke-width="1.6"/>
<line x1="104.32" y1="139.50" x2="96.06" y2="145.15" stroke="#8686c0" stroke-width="1.6"/>
<line x1="96.06" y1="145.15" x2="87.80" y2="150.80" stroke="#dcd850" stroke-width="1.6"/>
<line x1="128.94" y1="139.50" x2="124.84" y2="134.10" stroke="#5b5b9a" stroke-width="1.6"/>
<line x1="124.84" y1="134.10" x2="120.74" y2="128.70" stroke="#d6d214" stroke-width="1.6"/>
<line x1="128.94" y1="139.50" x2="137.15" y2="134.10" stroke="#8686c0" stroke-width="1.6"/>
<line x1="137.15" y1="134.10" x2="145.36" y2="128.70" stroke="#dcd850" stroke-width="1.6"/>
<line x1="128.94" y1="139.50" x2="132.99" y2="145.15" stroke="#5b5b9a" stroke-width="1.6"/>
<line x1="132.99" y1="145.15" x2="137.04" y2="150.80" stroke="#d6d214" stroke-width="1.6"/>
<line x1="128.94" y1="139.50" x2="120.68" y2="145.15" stroke="#8686c0" stroke-width="1.6"/>
<line x1="120.68" y1="145.15" x2="112.42" y2="150.80" stroke="#dcd850" stroke-width="1.6"/>
<line x1="153.56" y1="139.50" x2="149.46" y2="134.10" stroke="#5b5b9a" stroke-width="1.6"/>
<line x1="149.46" y1="134.10" x2="145.36" y2="128.70" stroke="#d6d214" stroke-width="1.6"/>
<line x1="153.56" y1="139.50" x2="161.77" y2="134.10" stroke="#8686c0" stroke-width="1.6"/>
<line x1="161.77" y1="134.10" x2="169.98" y2="128.70" stroke="#dcd850" stroke-width="1.6"/>
<line x1="153.56" y1="139.50" x2="157.61" y2="145.15" stroke="#5b5b9a" stroke-width="1.6"/>
<line x1="157.61" y1="145.15" x2="161.66" y2="150.80" stroke="#d6d214" stroke-width="1.6"/>
<line x1="153.56" y1="139.50" x2="145.30" y2="145.15" stroke="#8686c0" stroke-width="1.6"/>
<line x1="145.30" y1="145.15" x2="137.04" y2="150.80" stroke="#dcd850" stroke-width="1.6"/>
<line x1="178.18" y1="139.50" x2="174.08" y2="134.10" stroke="#5b5b9a" stroke-width="1.6"/>
<line x1="174.08" y1="134.10" x2="169.98" y2="128.70" stroke="#d6d214" stroke-width="1.6"/>
<line x1="178.18" y1="139.50" x2="186.39" y2="134.10" stroke="#8686c0" stroke-width="1.6"/>
<line x1="186.39" y1="134.10" x2="194.60" y2="128.70" stroke="#dcd850" stroke-width="1.6"/>
<line x1="178.18" y1="139.50" x2="182.23" y2="145.15" stroke="#5b5b9a" stroke-width="1.6"/>
<line x1="182.23" y1="145.15" x2="186.28" y2="150.80" stroke="#d6d214" stroke-width="1.6"/>
<line x1="178.18" y1="139.50" x2="169.92" y2="145.15" stroke="#8686c0" stroke-width="1.6"/>
<line x1="169.92" y1="145.15" x2="161.66" y2="150.80" stroke="#dcd850" stroke-width="1.6"/>
<line x1="79.70" y1="139.50" x2="87.71" y2="137.50" stroke="#5b5b9a" stroke-width="1.4"/>
<line x1="87.71" y1="137.50" x2="95.72" y2="135.50" stroke="#1b6aa8" stroke-width="1.4"/>
<line x1="104.32" y1="139.50" x2="100.02" y2="137.50" stroke="#5b5b9a" stroke-width="1.4"/>
<line x1="100.02" y1="137.50" x2="95.72" y2="135.50" stroke="#1b6aa8" stroke-width="1.4"/>
<line x1="128.94" y1="139.50" x2="136.95" y2="137.50" stroke="#5b5b9a" stroke-width="1.4"/>
<line x1="136.95" y1="137.50" x2="144.96" y2="135.50" stroke="#1b6aa8" stroke-width="1.4"/>
<line x1="153.56" y1="139.50" x2="149.26" y2="137.50" stroke="#5b5b9a" stroke-width="1.4"/>
<line x1="149.26" y1="137.50" x2="144.96" y2="135.50" stroke="#1b6aa8" stroke-width="1.4"/>
<line x1="178.18" y1="139.50" x2="186.19" y2="137.50" stroke="#5b5b9a" stroke-width="1.4"/>
<line x1="186.19" y1="137.50" x2="194.20" y2="135.50" stroke="#1b6aa8" stroke-width="1.4"/>
<line x1="79.70" y1="139.50" x2="71.39" y2="142.35" stroke="#5b5b9a" stroke-width="1.4"/>
<line x1="71.39" y1="142.35" x2="63.08" y2="145.20" stroke="#1b6aa8" stroke-width="1.4"/>
<line x1="104.32" y1="139.50" x2="108.32" y2="142.35" stroke="#5b5b9a" stroke-width="1.4"/>
<line x1="108.32" y1="142.35" x2="112.32" y2="145.20" stroke="#1b6aa8" stroke-width="1.4"/>
<line x1="128.94" y1="139.50" x2="120.63" y2="142.35" stroke="#5b5b9a" stroke-width="1.4"/>
<line x1="120.63" y1="142.35" x2="112.32" y2="145.20" stroke="#1b6aa8" stroke-width="1.4"/>
<line x1="153.56" y1="139.50" x2="157.56" y2="142.35" stroke="#5b5b9a" stroke-width="1.4"/>
<line x1="157.56" y1="142.35" x2="161.56" y2="145.20" stroke="#1b6aa8" stroke-width="1.4"/>
<line x1="178.18" y1="139.50" x2="169.87" y2="142.35" stroke="#5b5b9a" stroke-width="1.4"/>
<line x1="169.87" y1="142.35" x2="161.56" y2="145.20" stroke="#1b6aa8" stroke-width="1.4"/>
<circle cx="95.72" cy="135.50" r="2.00" fill="url(#gN)" />
<circle cx="144.96" cy="135.50" r="2.00" fill="url(#gN)" />
<circle cx="194.20" cy="135.50" r="2.00" fill="url(#gN)" />
<circle cx="63.08" cy="145.20" r="2.00" fill="url(#gN)" />
<circle cx="112.32" cy="145.20" r="2.00" fill="url(#gN)" />
<circle cx="161.56" cy="145.20" r="2.00" fill="url(#gN)" />
<circle cx="79.70" cy="139.50" r="4.30" fill="url(#gPd2)" />
<circle cx="104.32" cy="139.50" r="4.30" fill="url(#gPd2)" />
<circle cx="128.94" cy="139.50" r="4.30" fill="url(#gPd2)" />
<circle cx="153.56" cy="139.50" r="4.30" fill="url(#gPd2)" />
<circle cx="178.18" cy="139.50" r="4.30" fill="url(#gPd2)" />
<circle cx="71.50" cy="128.70" r="3.10" fill="url(#gS)" />
<circle cx="96.12" cy="128.70" r="3.10" fill="url(#gS)" />
<circle cx="120.74" cy="128.70" r="3.10" fill="url(#gS)" />
<circle cx="145.36" cy="128.70" r="3.10" fill="url(#gS)" />
<circle cx="169.98" cy="128.70" r="3.10" fill="url(#gS)" />
<circle cx="194.60" cy="128.70" r="3.10" fill="url(#gS)" />
<circle cx="63.18" cy="150.80" r="3.10" fill="url(#gS)" />
<circle cx="87.80" cy="150.80" r="3.10" fill="url(#gS)" />
<circle cx="112.42" cy="150.80" r="3.10" fill="url(#gS)" />
<circle cx="137.04" cy="150.80" r="3.10" fill="url(#gS)" />
<circle cx="161.66" cy="150.80" r="3.10" fill="url(#gS)" />
<circle cx="186.28" cy="150.80" r="3.10" fill="url(#gS)" />
<g fill="none" stroke="#ffbf00" stroke-width="1.85">
<path d="M317.00,2.00 C318.83,2.00 324.33,2.03 328.00,2.00 C331.67,1.97 335.33,1.88 339.00,1.80 C342.67,1.72 346.17,1.58 350.00,1.50 C353.83,1.42 358.17,1.33 362.00,1.30 C365.83,1.27 369.25,1.30 373.00,1.30 C376.75,1.30 381.00,1.27 384.50,1.30 C388.00,1.33 390.75,1.42 394.00,1.50 C397.25,1.58 400.83,1.72 404.00,1.80 C407.17,1.88 409.83,1.97 413.00,2.00 C416.17,2.03 421.33,2.00 423.00,2.00"/>
<path d="M317.00,2.80 C318.83,2.77 324.33,2.60 328.00,2.60 C331.67,2.60 335.33,2.73 339.00,2.80 C342.67,2.87 346.17,2.97 350.00,3.00 C353.83,3.03 358.17,3.00 362.00,3.00 C365.83,3.00 369.25,2.97 373.00,3.00 C376.75,3.03 381.00,3.20 384.50,3.20 C388.00,3.20 390.75,3.07 394.00,3.00 C397.25,2.93 400.83,2.83 404.00,2.80 C407.17,2.77 409.83,2.80 413.00,2.80 C416.17,2.80 421.33,2.80 423.00,2.80"/>
<path d="M317.00,5.80 C318.83,5.70 324.33,5.42 328.00,5.20 C331.67,4.98 335.33,4.70 339.00,4.50 C342.67,4.30 346.17,4.12 350.00,4.00 C353.83,3.88 358.17,3.83 362.00,3.80 C365.83,3.77 369.25,3.78 373.00,3.80 C376.75,3.82 381.00,3.83 384.50,3.90 C388.00,3.97 390.75,4.02 394.00,4.20 C397.25,4.38 400.83,4.78 404.00,5.00 C407.17,5.22 409.83,5.33 413.00,5.50 C416.17,5.67 421.33,5.92 423.00,6.00"/>
<path d="M317.00,12.00 C318.83,11.50 324.33,10.00 328.00,9.00 C331.67,8.00 335.33,6.70 339.00,6.00 C342.67,5.30 346.17,5.05 350.00,4.80 C353.83,4.55 358.17,4.53 362.00,4.50 C365.83,4.47 369.25,4.58 373.00,4.60 C376.75,4.62 381.00,4.53 384.50,4.60 C388.00,4.67 390.75,4.60 394.00,5.00 C397.25,5.40 400.83,6.25 404.00,7.00 C407.17,7.75 409.83,8.83 413.00,9.50 C416.17,10.17 421.33,10.75 423.00,11.00"/>
<path d="M317.00,6.20 C318.83,6.50 324.33,7.45 328.00,8.00 C331.67,8.55 335.33,9.25 339.00,9.50 C342.67,9.75 346.17,9.53 350.00,9.50 C353.83,9.47 358.17,9.33 362.00,9.30 C365.83,9.27 369.25,9.32 373.00,9.30 C376.75,9.28 381.00,9.25 384.50,9.20 C388.00,9.15 390.75,9.20 394.00,9.00 C397.25,8.80 400.83,8.42 404.00,8.00 C407.17,7.58 409.83,6.92 413.00,6.50 C416.17,6.08 421.33,5.67 423.00,5.50"/>
<path d="M317.00,12.80 C318.83,12.67 324.33,12.30 328.00,12.00 C331.67,11.70 335.33,11.20 339.00,11.00 C342.67,10.80 346.17,10.83 350.00,10.80 C353.83,10.77 358.17,10.80 362.00,10.80 C365.83,10.80 369.25,10.83 373.00,10.80 C376.75,10.77 381.00,10.60 384.50,10.60 C388.00,10.60 390.75,10.70 394.00,10.80 C397.25,10.90 400.83,11.03 404.00,11.20 C407.17,11.37 409.83,11.62 413.00,11.80 C416.17,11.98 421.33,12.22 423.00,12.30"/>
<path d="M317.00,13.80 C318.83,13.70 324.33,13.42 328.00,13.20 C331.67,12.98 335.33,12.65 339.00,12.50 C342.67,12.35 346.17,12.33 350.00,12.30 C353.83,12.27 358.17,12.30 362.00,12.30 C365.83,12.30 369.25,12.33 373.00,12.30 C376.75,12.27 381.00,12.10 384.50,12.10 C388.00,12.10 390.75,12.18 394.00,12.30 C397.25,12.42 400.83,12.62 404.00,12.80 C407.17,12.98 409.83,13.20 413.00,13.40 C416.17,13.60 421.33,13.90 423.00,14.00"/>
<path d="M317.00,16.30 C318.83,16.12 324.33,15.58 328.00,15.20 C331.67,14.82 335.33,14.25 339.00,14.00 C342.67,13.75 346.17,13.75 350.00,13.70 C353.83,13.65 358.17,13.70 362.00,13.70 C365.83,13.70 369.25,13.73 373.00,13.70 C376.75,13.67 381.00,13.50 384.50,13.50 C388.00,13.50 390.75,13.57 394.00,13.70 C397.25,13.83 400.83,14.03 404.00,14.30 C407.17,14.57 409.83,15.02 413.00,15.30 C416.17,15.58 421.33,15.88 423.00,16.00"/>
<path d="M317.00,19.50 C318.83,19.17 324.33,18.18 328.00,17.50 C331.67,16.82 335.33,15.82 339.00,15.40 C342.67,14.98 346.17,15.07 350.00,15.00 C353.83,14.93 358.17,15.00 362.00,15.00 C365.83,15.00 369.25,15.03 373.00,15.00 C376.75,14.97 381.00,14.80 384.50,14.80 C388.00,14.80 390.75,14.87 394.00,15.00 C397.25,15.13 400.83,15.30 404.00,15.60 C407.17,15.90 409.83,16.48 413.00,16.80 C416.17,17.12 421.33,17.38 423.00,17.50"/>
<path d="M317.00,22.50 C318.83,22.08 324.33,20.92 328.00,20.00 C331.67,19.08 335.33,17.67 339.00,17.00 C342.67,16.33 346.17,16.17 350.00,16.00 C353.83,15.83 358.17,16.00 362.00,16.00 C365.83,16.00 369.25,16.02 373.00,16.00 C376.75,15.98 381.00,15.87 384.50,15.90 C388.00,15.93 390.75,16.02 394.00,16.20 C397.25,16.38 400.83,16.45 404.00,17.00 C407.17,17.55 409.83,18.75 413.00,19.50 C416.17,20.25 421.33,21.17 423.00,21.50"/>
<path d="M317.00,16.80 C318.83,16.87 324.33,16.97 328.00,17.20 C331.67,17.43 335.33,17.90 339.00,18.20 C342.67,18.50 346.17,18.83 350.00,19.00 C353.83,19.17 358.17,19.17 362.00,19.20 C365.83,19.23 369.25,19.23 373.00,19.20 C376.75,19.17 381.00,19.03 384.50,19.00 C388.00,18.97 390.75,19.00 394.00,19.00 C397.25,19.00 400.83,18.97 404.00,19.00 C407.17,19.03 409.83,19.20 413.00,19.20 C416.17,19.20 421.33,19.03 423.00,19.00"/>
<path d="M317.00,20.50 C318.83,20.48 324.33,20.43 328.00,20.40 C331.67,20.37 335.33,20.28 339.00,20.30 C342.67,20.32 346.17,20.45 350.00,20.50 C353.83,20.55 358.17,20.60 362.00,20.60 C365.83,20.60 369.25,20.55 373.00,20.50 C376.75,20.45 381.00,20.33 384.50,20.30 C388.00,20.27 390.75,20.18 394.00,20.30 C397.25,20.42 400.83,20.63 404.00,21.00 C407.17,21.37 409.83,22.08 413.00,22.50 C416.17,22.92 421.33,23.33 423.00,23.50"/>
<path d="M317.00,25.00 C318.83,24.67 324.33,23.67 328.00,23.00 C331.67,22.33 335.33,21.50 339.00,21.00 C342.67,20.50 346.17,20.20 350.00,20.00 C353.83,19.80 358.17,19.83 362.00,19.80 C365.83,19.77 369.25,19.80 373.00,19.80 C376.75,19.80 381.00,19.77 384.50,19.80 C388.00,19.83 390.75,19.72 394.00,20.00 C397.25,20.28 400.83,20.92 404.00,21.50 C407.17,22.08 409.83,22.83 413.00,23.50 C416.17,24.17 421.33,25.17 423.00,25.50"/>
<path d="M317.00,25.50 C318.83,25.67 324.33,26.00 328.00,26.50 C331.67,27.00 335.33,27.75 339.00,28.50 C342.67,29.25 346.17,30.28 350.00,31.00 C353.83,31.72 358.17,32.72 362.00,32.80 C365.83,32.88 369.25,32.05 373.00,31.50 C376.75,30.95 381.00,30.08 384.50,29.50 C388.00,28.92 390.75,28.42 394.00,28.00 C397.25,27.58 400.83,27.33 404.00,27.00 C407.17,26.67 409.83,26.25 413.00,26.00 C416.17,25.75 421.33,25.58 423.00,25.50"/>
<path d="M317.00,26.50 C318.83,26.67 324.33,26.92 328.00,27.50 C331.67,28.08 335.33,29.17 339.00,30.00 C342.67,30.83 346.17,31.75 350.00,32.50 C353.83,33.25 358.17,34.12 362.00,34.50 C365.83,34.88 369.25,34.72 373.00,34.80 C376.75,34.88 381.00,35.30 384.50,35.00 C388.00,34.70 390.75,33.83 394.00,33.00 C397.25,32.17 400.83,30.92 404.00,30.00 C407.17,29.08 409.83,28.08 413.00,27.50 C416.17,26.92 421.33,26.67 423.00,26.50"/>
<path d="M317.00,40.40 C318.83,40.67 324.33,41.23 328.00,42.00 C331.67,42.77 335.33,43.67 339.00,45.00 C342.67,46.33 346.17,48.25 350.00,50.00 C353.83,51.75 358.17,54.28 362.00,55.50 C365.83,56.72 369.25,56.97 373.00,57.30 C376.75,57.63 381.00,58.22 384.50,57.50 C388.00,56.78 390.75,54.58 394.00,53.00 C397.25,51.42 400.83,49.50 404.00,48.00 C407.17,46.50 409.83,45.00 413.00,44.00 C416.17,43.00 421.33,42.33 423.00,42.00"/>
<path d="M317.00,42.50 C318.83,42.75 324.33,43.17 328.00,44.00 C331.67,44.83 335.33,46.08 339.00,47.50 C342.67,48.92 346.17,50.87 350.00,52.50 C353.83,54.13 358.17,56.63 362.00,57.30 C365.83,57.97 369.25,57.05 373.00,56.50 C376.75,55.95 381.00,55.08 384.50,54.00 C388.00,52.92 390.75,51.33 394.00,50.00 C397.25,48.67 400.83,47.17 404.00,46.00 C407.17,44.83 409.83,43.93 413.00,43.00 C416.17,42.07 421.33,40.83 423.00,40.40"/>
<path d="M317.00,45.00 C318.83,45.33 324.33,46.17 328.00,47.00 C331.67,47.83 335.33,48.75 339.00,50.00 C342.67,51.25 346.17,53.08 350.00,54.50 C353.83,55.92 358.17,58.25 362.00,58.50 C365.83,58.75 369.25,57.08 373.00,56.00 C376.75,54.92 381.00,53.25 384.50,52.00 C388.00,50.75 390.75,49.58 394.00,48.50 C397.25,47.42 400.83,46.33 404.00,45.50 C407.17,44.67 409.83,43.75 413.00,43.50 C416.17,43.25 421.33,43.92 423.00,44.00"/>
<path d="M317.00,65.50 C318.83,65.83 324.33,66.67 328.00,67.50 C331.67,68.33 335.33,70.42 339.00,70.50 C342.67,70.58 346.17,70.17 350.00,68.00 C353.83,65.83 358.17,60.00 362.00,57.50 C365.83,55.00 369.25,54.13 373.00,53.00 C376.75,51.87 381.00,51.37 384.50,50.70 C388.00,50.03 390.75,49.53 394.00,49.00 C397.25,48.47 400.83,48.00 404.00,47.50 C407.17,47.00 409.83,46.33 413.00,46.00 C416.17,45.67 421.33,45.58 423.00,45.50"/>
<path d="M317.00,60.80 C318.83,60.83 324.33,60.97 328.00,61.00 C331.67,61.03 335.33,60.97 339.00,61.00 C342.67,61.03 346.17,61.07 350.00,61.20 C353.83,61.33 358.17,61.70 362.00,61.80 C365.83,61.90 369.25,61.80 373.00,61.80 C376.75,61.80 381.00,61.88 384.50,61.80 C388.00,61.72 390.75,61.43 394.00,61.30 C397.25,61.17 400.83,61.08 404.00,61.00 C407.17,60.92 409.83,60.83 413.00,60.80 C416.17,60.77 421.33,60.80 423.00,60.80"/>
<path d="M317.00,62.30 C318.83,62.33 324.33,62.38 328.00,62.50 C331.67,62.62 335.33,62.75 339.00,63.00 C342.67,63.25 346.17,63.55 350.00,64.00 C353.83,64.45 358.17,65.62 362.00,65.70 C365.83,65.78 369.25,64.72 373.00,64.50 C376.75,64.28 381.00,64.52 384.50,64.40 C388.00,64.28 390.75,64.00 394.00,63.80 C397.25,63.60 400.83,63.37 404.00,63.20 C407.17,63.03 409.83,62.88 413.00,62.80 C416.17,62.72 421.33,62.72 423.00,62.70"/>
<path d="M317.00,63.80 C318.83,63.88 324.33,64.10 328.00,64.30 C331.67,64.50 335.33,64.63 339.00,65.00 C342.67,65.37 346.17,65.95 350.00,66.50 C353.83,67.05 358.17,68.22 362.00,68.30 C365.83,68.38 369.25,67.22 373.00,67.00 C376.75,66.78 381.00,67.13 384.50,67.00 C388.00,66.87 390.75,66.45 394.00,66.20 C397.25,65.95 400.83,65.67 404.00,65.50 C407.17,65.33 409.83,65.28 413.00,65.20 C416.17,65.12 421.33,65.03 423.00,65.00"/>
<path d="M317.00,65.50 C318.83,65.67 324.33,66.17 328.00,66.50 C331.67,66.83 335.33,67.08 339.00,67.50 C342.67,67.92 346.17,68.43 350.00,69.00 C353.83,69.57 358.17,70.48 362.00,70.90 C365.83,71.32 369.25,71.48 373.00,71.50 C376.75,71.52 381.00,71.33 384.50,71.00 C388.00,70.67 390.75,69.97 394.00,69.50 C397.25,69.03 400.83,68.53 404.00,68.20 C407.17,67.87 409.83,67.63 413.00,67.50 C416.17,67.37 421.33,67.42 423.00,67.40"/>
<path d="M317.00,66.50 C318.83,66.58 324.33,67.00 328.00,67.00 C331.67,67.00 335.33,67.00 339.00,66.50 C342.67,66.00 346.17,64.92 350.00,64.00 C353.83,63.08 358.17,61.67 362.00,61.00 C365.83,60.33 369.25,60.00 373.00,60.00 C376.75,60.00 381.00,60.67 384.50,61.00 C388.00,61.33 390.75,61.58 394.00,62.00 C397.25,62.42 400.83,63.08 404.00,63.50 C407.17,63.92 409.83,64.25 413.00,64.50 C416.17,64.75 421.33,64.92 423.00,65.00"/>
<path d="M317.00,112.00 C319.33,109.33 326.33,101.17 331.00,96.00 C335.67,90.83 341.33,83.57 345.00,81.00 C348.67,78.43 350.17,80.30 353.00,80.60 C355.83,80.90 359.83,82.65 362.00,82.80 C364.17,82.95 364.17,81.93 366.00,81.50 C367.83,81.07 369.92,80.45 373.00,80.20 C376.08,79.95 381.33,79.78 384.50,80.00 C387.67,80.22 388.25,78.83 392.00,81.50 C395.75,84.17 401.83,90.92 407.00,96.00 C412.17,101.08 420.33,109.33 423.00,112.00"/>
<path d="M317.00,112.00 C318.50,110.58 322.83,106.42 326.00,103.50 C329.17,100.58 332.67,96.95 336.00,94.50 C339.33,92.05 343.00,90.00 346.00,88.80 C349.00,87.60 351.33,87.63 354.00,87.30 C356.67,86.97 360.00,87.15 362.00,86.80 C364.00,86.45 364.17,85.58 366.00,85.20 C367.83,84.82 369.92,84.60 373.00,84.50 C376.08,84.40 381.00,83.77 384.50,84.60 C388.00,85.43 389.92,86.77 394.00,89.50 C398.08,92.23 404.17,97.25 409.00,101.00 C413.83,104.75 420.67,110.17 423.00,112.00"/>
<path d="M317.00,112.00 C318.67,111.00 323.67,108.25 327.00,106.00 C330.33,103.75 333.83,100.62 337.00,98.50 C340.17,96.38 343.17,94.47 346.00,93.30 C348.83,92.13 351.33,91.87 354.00,91.50 C356.67,91.13 360.00,91.38 362.00,91.10 C364.00,90.82 364.17,90.32 366.00,89.80 C367.83,89.28 369.92,88.53 373.00,88.00 C376.08,87.47 380.67,85.60 384.50,86.60 C388.33,87.60 391.75,91.27 396.00,94.00 C400.25,96.73 405.50,100.00 410.00,103.00 C414.50,106.00 420.83,110.50 423.00,112.00"/>
<path d="M317.00,69.60 C319.50,70.25 328.17,72.35 332.00,73.50 C335.83,74.65 337.50,75.33 340.00,76.50 C342.50,77.67 344.67,80.08 347.00,80.50 C349.33,80.92 351.50,79.50 354.00,79.00 C356.50,78.50 360.00,77.63 362.00,77.50 C364.00,77.37 364.17,77.70 366.00,78.20 C367.83,78.70 369.92,79.62 373.00,80.50 C376.08,81.38 380.83,83.83 384.50,83.50 C388.17,83.17 390.75,80.25 395.00,78.50 C399.25,76.75 405.33,74.60 410.00,73.00 C414.67,71.40 420.83,69.58 423.00,68.90"/>
<path d="M317.00,68.50 C319.67,68.83 328.00,69.75 333.00,70.50 C338.00,71.25 342.17,72.27 347.00,73.00 C351.83,73.73 357.67,74.48 362.00,74.90 C366.33,75.32 369.25,75.28 373.00,75.50 C376.75,75.72 380.67,76.37 384.50,76.20 C388.33,76.03 391.75,75.37 396.00,74.50 C400.25,73.63 405.50,72.00 410.00,71.00 C414.50,70.00 420.83,68.92 423.00,68.50"/>
</g>
<line x1="318.3" y1="112.2" x2="423" y2="112.2" stroke="#1e90ff" stroke-width="1.8" stroke-dasharray="8.5 3.8 1.8 3.8"/>
<line x1="361.8" y1="-9.7" x2="361.8" y2="129" stroke="#000" stroke-width="1.6" stroke-dasharray="10.8 2.2 1.9 2.5"/>
<line x1="384.6" y1="-9.7" x2="384.6" y2="129" stroke="#000" stroke-width="1.6" stroke-dasharray="10.8 2.2 1.9 2.5"/>
<g stroke="#000" stroke-width="1.5" fill="none">
<path d="M317.1,0 V129.1 H423 V0"/>
<path d="M313,12.6 H317.1 M423,12.6 H419.5"/>
<path d="M313,45.8 H317.1 M423,45.8 H419.5"/>
<path d="M313,79.0 H317.1 M423,79.0 H419.5"/>
<path d="M313,112.2 H317.1 M423,112.2 H419.5"/>
<path d="M315,29.2 H317.1 M423,29.2 H421"/>
<path d="M315,62.4 H317.1 M423,62.4 H421"/>
<path d="M315,95.6 H317.1 M423,95.6 H421"/>
<path d="M317.10,129.1 V132.3"/>
<path d="M338.27,129.1 V132.3"/>
<path d="M359.44,129.1 V132.3"/>
<path d="M380.61,129.1 V132.3"/>
<path d="M401.78,129.1 V132.3"/>
<path d="M422.95,129.1 V132.3"/>
<path d="M327.70,129.1 V131"/>
<path d="M348.87,129.1 V131"/>
<path d="M370.04,129.1 V131"/>
<path d="M391.21,129.1 V131"/>
<path d="M412.38,129.1 V131"/>
</g>
<g font-family="Liberation Serif, serif" font-size="18.6" fill="#000" text-anchor="end" stroke="#000" stroke-width="0.3">
<text x="310.0" y="19.0">300</text>
<text x="310.0" y="52.199999999999996">200</text>
<text x="310.0" y="85.4">100</text>
<text x="310.0" y="118.60000000000001">0</text>
</g>
<text transform="translate(267.8,77) rotate(-90)" font-family="Liberation Serif, serif" font-size="17.5" letter-spacing="0.3" stroke="#000" stroke-width="0.3">Frequency (cm<tspan dy="-6" font-size="12">-1</tspan><tspan dy="6">)</tspan></text>
<g font-family="Liberation Serif, serif" font-size="17.5" text-anchor="middle" stroke="#000" stroke-width="0.3">
<text x="317.5" y="153">M</text><text x="361.9" y="153">K</text><text x="383.2" y="153">Γ</text><text x="424.5" y="153">M</text></g>
<text x="1" y="171.1" font-family="Liberation Serif, serif" font-size="22" stroke="#000" stroke-width="0.3">(c)</text>
<text transform="translate(31.2,186.9) rotate(-90)" font-family="Liberation Serif, serif" font-size="18.4" fill="#f00" text-anchor="end" stroke="#f00" stroke-width="0.1">Magnetic moment<tspan dx="2.2"> (μB)</tspan></text>
<rect x="67.8" y="217.8" width="132.8" height="40" fill="#fcdcc2"/>
<line x1="67" y1="217.8" x2="201.5" y2="217.8" stroke="#000" stroke-width="1.8"/>
<line x1="67.8" y1="217" x2="67.8" y2="252" stroke="#f00" stroke-width="1.6"/>
<line x1="200.6" y1="217" x2="200.6" y2="252" stroke="#1a5fe0" stroke-width="1.8"/>
<line x1="65.2" y1="232.8" x2="67.8" y2="232.8" stroke="#f00" stroke-width="1.5"/>
<line x1="200.6" y1="217.8" x2="203.6" y2="217.8" stroke="#1a5fe0" stroke-width="1.5"/>
<line x1="110.8" y1="217.8" x2="110.8" y2="220" stroke="#000" stroke-width="1.2"/>
<line x1="120.9" y1="214.4" x2="120.9" y2="256" stroke="#000" stroke-width="1.4" stroke-dasharray="9 2 1.6 2"/>
<text x="64.2" y="238.1" font-family="Liberation Serif, serif" font-size="17.2" fill="#f00" text-anchor="end" stroke="#f00" stroke-width="0.1">0.3</text>
<text x="205.6" y="223.0" font-family="Liberation Serif, serif" font-size="17.5" fill="#1a5fe0" stroke="#1a5fe0" stroke-width="0.3">9</text>
<text x="205.6" y="258" font-family="Liberation Serif, serif" font-size="17.5" fill="#1a5fe0" stroke="#1a5fe0" stroke-width="0.3">6</text>
<text x="149.6" y="209.4" font-family="Liberation Serif, serif" font-size="18.6" fill="#1a5fe0" stroke="#1a5fe0" stroke-width="0.3">(×10<tspan dy="-7.2" dx="0.6" font-size="12">-4</tspan><tspan dy="7.2" dx="1.6">)</tspan></text>
<text x="140.4" y="243.7" font-family="Liberation Serif, serif" font-size="21.8" fill="#f00" stroke="#f00" stroke-width="0.3">80 K</text>
<text transform="translate(233.8,182.6) rotate(-90)" font-family="Liberation Serif, serif" font-size="17.3" fill="#1a5fe0" text-anchor="end" stroke="#1a5fe0" stroke-width="0.3">C<tspan dy="3.5" dx="0.8" font-size="12">v</tspan><tspan dy="-3.5" dx="4.5"> (eV/K)</tspan></text>
<polyline points="74.3,226 81,242.4 88.1,248.6 95.3,251.4 102.5,253.5" fill="none" stroke="#9a00d0" stroke-width="1.3"/>
<polyline points="74.3,253 88,262 102.3,251 109.4,244.9 116.3,227.6 123.4,226.1 130.2,242.4 134.5,254" fill="none" stroke="#3a3a3a" stroke-width="1.3"/>
<circle cx="74.3" cy="226" r="2.5" fill="#fff" stroke="#f01818" stroke-width="1.5"/>
<circle cx="81" cy="242.4" r="2.5" fill="#fff" stroke="#f01818" stroke-width="1.5"/>
<circle cx="88.1" cy="248.6" r="2.5" fill="#fff" stroke="#f01818" stroke-width="1.5"/>
<circle cx="95.3" cy="251.4" r="2.5" fill="#fff" stroke="#f01818" stroke-width="1.5"/>
<circle cx="74.3" cy="253" r="2.5" fill="#fff" stroke="#1060e8" stroke-width="1.5"/>
<circle cx="102.3" cy="251" r="2.5" fill="#fff" stroke="#1060e8" stroke-width="1.5"/>
<circle cx="109.4" cy="244.9" r="2.5" fill="#fff" stroke="#1060e8" stroke-width="1.5"/>
<circle cx="116.3" cy="227.6" r="2.5" fill="#fff" stroke="#1060e8" stroke-width="1.5"/>
<circle cx="123.4" cy="226.1" r="2.5" fill="#fff" stroke="#1060e8" stroke-width="1.5"/>
<circle cx="130.2" cy="242.4" r="2.5" fill="#fff" stroke="#1060e8" stroke-width="1.5"/>
<text x="246.5" y="171.1" font-family="Liberation Serif, serif" font-size="22" stroke="#000" stroke-width="0.3">(d)</text>
<text transform="translate(269.2,244) rotate(-90)" font-family="Liberation Serif, serif" font-size="20" text-anchor="end" stroke="#000" stroke-width="0.3">T (K)</text>
<rect x="306.8" y="216.7" width="55.5" height="40" fill="#a9c5e5"/>
<rect x="362.3" y="216.7" width="2" height="40" fill="#eef0f4"/>
<rect x="364.3" y="216.7" width="75.3" height="40" fill="#ffa6a6"/>
<rect x="437.2" y="216.7" width="0.9" height="40" fill="#ffd0d0"/>
<path d="M306.8,252 V216.7 H439.7 V252" fill="none" stroke="#000" stroke-width="2"/>
<line x1="303.6" y1="216.7" x2="306.8" y2="216.7" stroke="#000" stroke-width="1.5"/>
<line x1="303.3" y1="239.6" x2="306.8" y2="239.6" stroke="#000" stroke-width="1.5"/>
<line x1="327.1" y1="216.7" x2="327.1" y2="219.2" stroke="#000" stroke-width="1.2"/>
<line x1="399.3" y1="216.7" x2="399.3" y2="219.2" stroke="#000" stroke-width="1.2"/>
<line x1="363.3" y1="217" x2="363.3" y2="256" stroke="#000" stroke-width="1.2" stroke-dasharray="7 2 1.5 2 14 2 1.5 2 14 2 1.5 2 14 2"/>
<line x1="435.4" y1="216.7" x2="435.4" y2="219.2" stroke="#000" stroke-width="1.2"/>
<line x1="436.2" y1="240.6" x2="440" y2="240.6" stroke="#000" stroke-width="1.2"/>
<g font-family="Liberation Serif, serif" font-size="18" text-anchor="end" stroke="#000" stroke-width="0.3"><text x="302.9" y="223.3">120</text><text x="302.9" y="244.9">110</text></g>
<line x1="309.6" y1="238.9" x2="334" y2="238.9" stroke="#1f4e9a" stroke-width="1.5" stroke-dasharray="3.5 2.5"/>
<line x1="307.6" y1="224.6" x2="312" y2="224.6" stroke="#1f4e9a" stroke-width="1.5" stroke-dasharray="1.5 2.5"/>
<polyline points="318.4,224.6 340.6,238.1 344.6,253" fill="none" stroke="#7a1d0c" stroke-width="1.8"/>
<polygon points="323.80,224.60 321.10,229.28 315.70,229.28 313.00,224.60 315.70,219.92 321.10,219.92" fill="#fdc010"/>
<polygon points="318.40,219.92 315.70,219.92 313.00,224.60 315.70,229.28 318.40,229.28" fill="#3cb870"/>
<polygon points="323.80,224.60 321.10,229.28 315.70,229.28 313.00,224.60 315.70,219.92 321.10,219.92" fill="none" stroke="#fdc010" stroke-width="1.3"/>
<polygon points="346.00,238.10 343.30,242.78 337.90,242.78 335.20,238.10 337.90,233.42 343.30,233.42" fill="#fdc010"/>
<polygon points="340.60,233.42 337.90,233.42 335.20,238.10 337.90,242.78 340.60,242.78" fill="#4a4aa8"/>
<polygon points="346.00,238.10 343.30,242.78 337.90,242.78 335.20,238.10 337.90,233.42 343.30,233.42" fill="none" stroke="#fdc010" stroke-width="1.3"/>
</svg>
</body></html>
